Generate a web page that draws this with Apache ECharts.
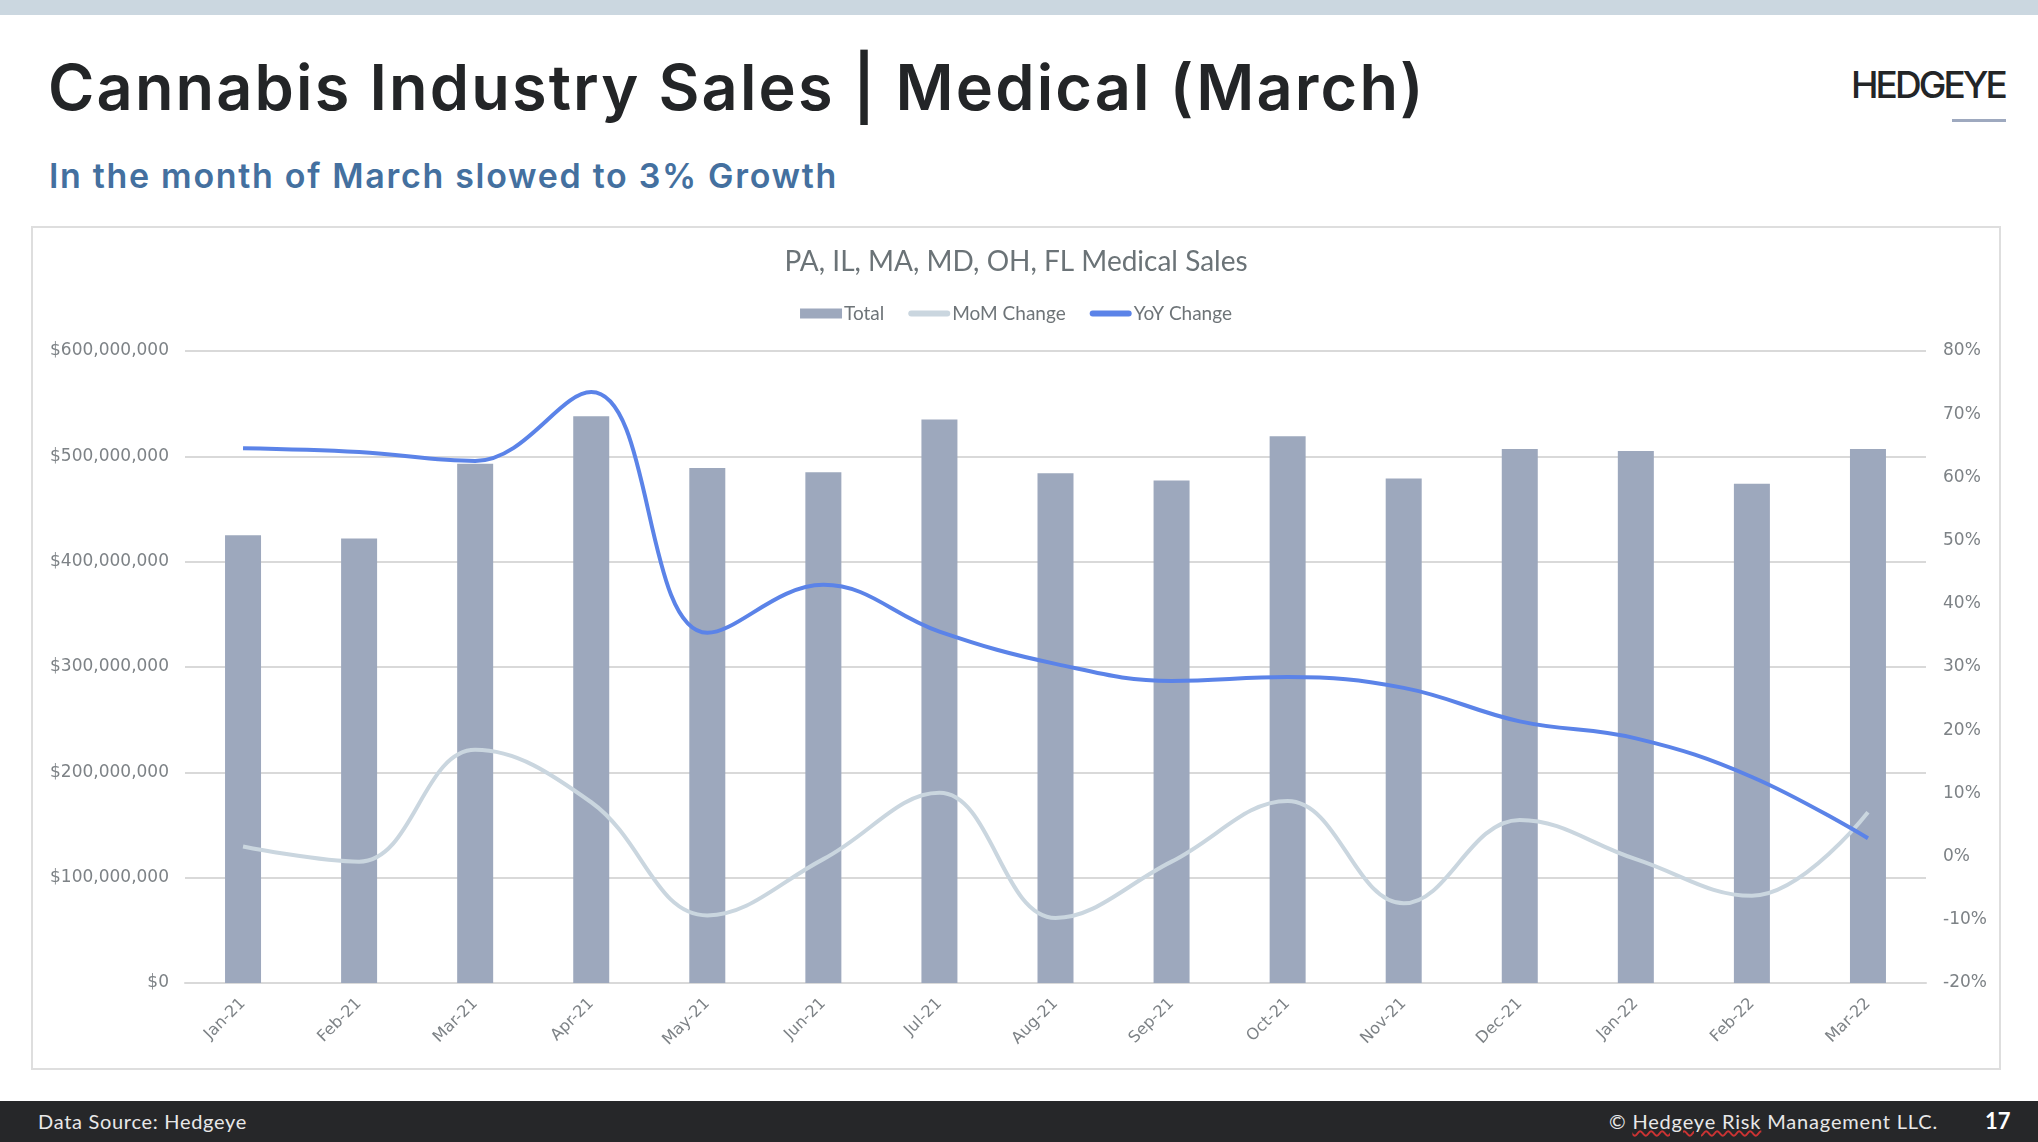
<!DOCTYPE html>
<html>
<head>
<meta charset="utf-8">
<script src="https://cdn.jsdelivr.net/npm/echarts@6/dist/echarts.min.js"></script>
<style>
  body { margin: 0; background: #fff; }
  .page { position: relative; width: 2038px; height: 1142px; overflow: hidden; font-family: Lato, sans-serif; }
  .top-band { position: absolute; left: 0; top: 0; width: 2038px; height: 15px; background: #cbd7e0; }
  .title { position: absolute; left: 48px; top: 49px; font-family: Inter, sans-serif; font-size: 63px; font-weight: 600; color: #232527; white-space: nowrap; }
  .subtitle { position: absolute; left: 49px; top: 155px; font-family: Inter, sans-serif; font-size: 34px; font-weight: 600; color: #44709f; white-space: nowrap; }
  .logo { position: absolute; left: 1851px; top: 62px; font-family: Inter, sans-serif; font-weight: 500; font-size: 37px; color: #232527; white-space: nowrap; }
  .logo-line { position: absolute; left: 1952px; top: 119px; width: 54px; height: 3px; background: #9ea9bf; }
  .box { position: absolute; left: 31px; top: 226px; width: 1966px; height: 840px; border: 2px solid #dedede; }
  #chart { width: 1966px; height: 840px; }
  .footer { position: absolute; left: 0; top: 1101px; width: 2038px; height: 41px; background: #262729; color: #e8e8e8; font-size: 20px; }
  .footer span { position: absolute; white-space: nowrap; }
  .footer .src { left: 38px; top: 8px; }
  .footer .copy { left: 1609px; top: 8px; }
  .footer .num { left: 1985px; top: 6px; font-weight: 700; font-size: 22px; color: #fff; }
</style>
</head>
<body>
<div class="page">
  <div class="top-band"></div>
  <div class="title" data-w="1377">Cannabis Industry Sales | Medical (March)</div>
  <div class="subtitle" data-w="789">In the month of March slowed to 3% Growth</div>
  <div class="logo" data-w="154">HEDGEYE</div>
  <div class="logo-line"></div>
  <div class="box"><div id="chart"></div></div>
  <div class="footer">
    <span class="src" data-w="209">Data Source: Hedgeye</span>
    <span class="copy" data-w="329">© <u style="text-decoration-color:#c33;text-decoration-style:wavy">Hedgeye Risk</u> Management LLC.</span>
    <span class="num">17</span>
  </div>
</div>
<script>
  const months = ['Jan-21', 'Feb-21', 'Mar-21', 'Apr-21', 'May-21', 'Jun-21', 'Jul-21', 'Aug-21',
                  'Sep-21', 'Oct-21', 'Nov-21', 'Dec-21', 'Jan-22', 'Feb-22', 'Mar-22']
  // monthly medical sales, dollars
  const total = [425e6, 422e6, 493e6, 538e6, 489e6, 485e6, 535e6, 484e6,
                 477e6, 519e6, 479e6, 507e6, 505e6, 474e6, 507e6]
  // percent
  const momChange = [1.6, -0.8, 16.9, 8.6, -9.3, -0.4, 10.1, -9.7, -0.8, 8.8, -7.4, 5.8, -0.4, -6.2, 7.0]
  const yoyChange = [64.6, 64.0, 62.6, 73.5, 35.4, 43.0, 35.6, 30.5, 27.8, 28.4, 26.7, 21.4, 18.7, 12.6, 2.9]

  // stretch header / footer text to the widths seen in the slide
  document.querySelectorAll('[data-w]').forEach(el => {
    const w = el.getBoundingClientRect().width
    const n = el.textContent.length
    el.style.letterSpacing = ((+el.dataset.w - w) / n) + 'px'
  })

  const axisFont = 'DejaVu Sans'
  const grayText = '#7d8286'
  // thin bar with round ends for the line series in the legend
  const lineIcon = 'path://M3,0 L39,0 A3,3 0 0 1 39,6 L3,6 A3,3 0 0 1 3,0 Z'

  const chart = echarts.init(document.getElementById('chart'))
  chart.setOption({
    animation: false,
    title: {
      text: 'PA, IL, MA, MD, OH, FL Medical Sales',
      left: 'center',
      top: 20,
      padding: 0,
      textStyle: { fontFamily: 'Lato', fontWeight: 'normal', fontSize: 28, color: '#6b7377' }
    },
    legend: {
      top: 71,
      left: 'center',
      itemWidth: 42,
      itemHeight: 10,
      itemGap: 24,
      symbolKeepAspect: true,
      textStyle: { fontFamily: 'Lato', fontSize: 19, color: '#6e7478', padding: [0, 0, 0, -3] },
      data: [
        { name: 'Total', icon: 'rect' },
        { name: 'MoM Change', icon: lineIcon },
        { name: 'YoY Change', icon: lineIcon }
      ]
    },
    grid: { left: 152, right: 73, top: 123, bottom: 85 },
    xAxis: {
      type: 'category',
      data: months,
      axisTick: { show: false },
      axisLine: { lineStyle: { color: '#d9d9d9', width: 2 } },
      axisLabel: { rotate: 45, margin: 18, fontFamily: axisFont, fontSize: 16, color: grayText }
    },
    yAxis: [
      {
        type: 'value',
        min: 0, max: 600000000, interval: 100000000,
        axisLine: { show: false },
        axisTick: { show: false },
        splitLine: { lineStyle: { color: '#d9d9d9', width: 2 } },
        axisLabel: {
          margin: 16, fontFamily: axisFont, fontSize: 17, color: grayText,
          formatter: v => '$' + v.toLocaleString('en-US')
        }
      },
      {
        type: 'value',
        min: -20, max: 80, interval: 10,
        axisLine: { show: false },
        axisTick: { show: false },
        splitLine: { show: false },
        axisLabel: { margin: 17, fontFamily: axisFont, fontSize: 17, color: grayText, formatter: '{value}%' }
      }
    ],
    series: [
      {
        name: 'Total',
        type: 'bar',
        data: total,
        barWidth: 36,
        itemStyle: { color: '#9da8bd' }
      },
      {
        name: 'MoM Change',
        type: 'line',
        yAxisIndex: 1,
        data: momChange,
        smooth: 0.4,
        symbol: 'none',
        lineStyle: { color: '#cad6df', width: 4 },
        itemStyle: { color: '#cad6df' }
      },
      {
        name: 'YoY Change',
        type: 'line',
        yAxisIndex: 1,
        data: yoyChange,
        smooth: 0.4,
        symbol: 'none',
        lineStyle: { color: '#5b83e8', width: 4 },
        itemStyle: { color: '#5b83e8' }
      }
    ]
  })
</script>
</body>
</html>
